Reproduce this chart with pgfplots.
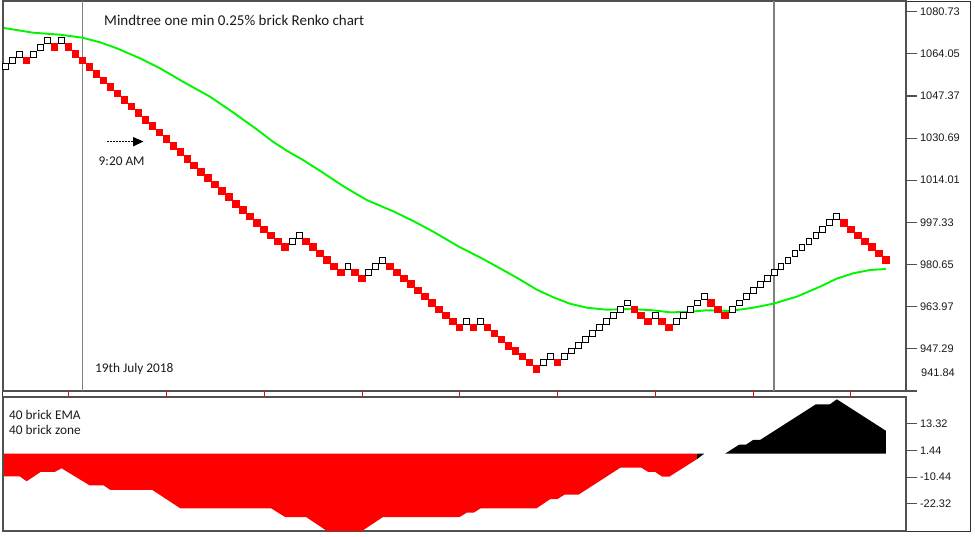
\documentclass[border=0pt]{standalone}
\usepackage{fontspec}
\setmainfont{Liberation Sans}
\newfontfamily\carlito{Carlito}
\usepackage{pgfplots}
\pgfplotsset{compat=1.18}
\definecolor{frameC}{HTML}{303030}
\definecolor{axisC}{HTML}{505050}
\definecolor{vlineC}{HTML}{808080}
\definecolor{txtC}{HTML}{1A1A1A}
\begin{document}
\begin{tikzpicture}[x=1pt,y=1pt]
\path (0,0) rectangle (975,536);
\draw[frameC,line width=1.1pt] (2.5,534.8) rectangle (970.2,4.6);
\begin{axis}[
  at={(3pt,145pt)},anchor=south west,
  scale only axis,width=903pt,height=390pt,
  xmin=-0.387,xmax=128.9,ymin=930.41,ymax=1085.04,
  axis line style={axisC,line width=1.5pt},
  xtick=\empty,
  ytick pos=right,
  tick align=outside,
  ytick={930.41,947.29,963.97,980.65,997.33,1014.01,1030.69,1047.37,1064.05,1080.73},
  yticklabels={,947.29,963.97,980.65,997.33,1014.01,1030.69,1047.37,1064.05,1080.73},
  yticklabel style={font=\fontsize{11}{12}\selectfont,text=txtC,anchor=west,xshift=-0.5pt},
  y tick style={axisC,line width=1.1pt},
  major tick length=11pt,
  clip=true,
]
\addplot[only marks,red,mark=square*,mark size=3.3pt,mark options={draw=red,fill=red,line width=0pt}] coordinates {
(3,1061.37)(7,1066.69)(9,1066.69)(10,1063.91)(11,1061.37)(12,1058.9)(13,1056.10)(14,1053.44)(15,1050.94)(16,1048.29)(17,1045.79)(18,1043.13)(19,1040.52)(20,1037.86)(21,1035.36)(22,1032.83)(23,1030.21)(24,1027.55)(25,1025.05)(26,1022.40)(27,1019.74)(28,1017.24)(29,1014.86)(30,1012.21)(31,1009.71)(32,1007.21)(33,1004.67)(34,1002.17)(35,999.64)(36,997.10)(37,994.52)(38,992.14)(39,989.76)(40,987.39)
(43,989.76)(44,987.39)(45,984.85)(46,982.23)(47,979.85)(48,977.47)(50,977.47)(51,975.09)(55,979.85)(56,977.47)(57,975.09)(58,972.72)(59,970.18)(60,967.80)(61,965.30)(62,962.80)(63,960.42)(64,957.89)(65,955.51)(67,955.51)(69,955.51)(70,953.13)(71,950.75)(72,948.37)(73,946.27)(74,944.01)(75,941.63)(76,939.25)(79,941.63)
(90,962.80)(91,960.42)(92,957.89)(94,957.89)(95,955.51)(101,965.30)(102,962.80)(103,960.42)(120,997.10)(121,994.52)(122,992.14)(123,989.76)(124,987.39)(125,984.85)(126,982.23)};
\addplot[only marks,black,mark=square*,mark size=2.95pt,mark options={draw=black,fill=white,line width=0.9pt}] coordinates {
(0,1058.99)(1,1061.37)(2,1063.91)(4,1063.91)(5,1066.69)(6,1069.30)(8,1069.30)
(41,989.76)(42,992.14)(49,979.85)(52,977.47)(53,979.85)(54,982.23)(66,957.89)(68,957.89)
(77,941.63)(78,944.01)(80,944.01)(81,946.27)(82,948.37)(83,950.75)(84,953.13)(85,955.51)(86,957.89)(87,960.42)(88,962.80)(89,965.30)(93,960.42)
(96,957.89)(97,960.42)(98,962.80)(99,965.30)(100,967.80)(104,962.80)(105,965.30)(106,967.80)(107,970.18)(108,972.72)(109,975.09)(110,977.47)(111,979.85)(112,982.23)(113,984.85)(114,987.39)(115,989.76)(116,992.14)(117,994.52)(118,997.10)(119,999.64)};
\addplot[vlineC,line width=1.8pt] coordinates {(11,930.41)(11,1085.04)};
\addplot[vlineC,line width=1.8pt] coordinates {(110,930.41)(110,1085.04)};
\addplot[color={rgb,255:red,0;green,245;blue,0},line width=1.9pt,line join=round] coordinates {
(-0.24,1074.34)(3.91,1072.47)(7.77,1071.68)(10.97,1070.49)(13.5,1068.67)(15.89,1066.29)(19.23,1062.32)(22.09,1058.36)(25.38,1053.05)(29.25,1047.10)(32.54,1040.91)(35.93,1034.17)(38.27,1029.26)(40.23,1025.69)(42.56,1022.00)(44.98,1017.76)(48.29,1011.69)(51.68,1006.14)(55.49,1001.66)(58.35,997.81)(61.22,993.57)(65.04,987.39)(67.90,983.42)(70.76,979.06)(73.63,974.62)(76.02,970.62)(78.4,967.56)(80.79,965.02)(83.18,963.44)(86.04,962.64)(89.38,962.92)(92.71,962.41)(95.1,961.61)(97.5,961.73)(100.36,962.41)(103.7,962.13)(107.03,963.44)(109.89,965.02)(113.24,967.80)(116.58,971.76)(118.97,974.94)(121.35,977.08)(123.73,978.38)(126.02,978.78)};
\end{axis}
% red time ticks in the strip between the two panels
\begin{axis}[
  at={(3pt,145pt)},anchor=south west,
  scale only axis,width=903pt,height=390pt,
  xmin=-0.387,xmax=128.9,ymin=930.41,ymax=1085.04,
  axis y line=none,axis x line*=bottom,
  axis line style={draw=none},
  xtick={9,23,37,51,65,79,93,107,121},xticklabels={},
  tick align=outside,
  x tick style={red,line width=0.8pt},
  major tick length=5.5pt,
]
\addplot[draw=none] coordinates {(0,1000)};
\end{axis}
\begin{axis}[
  at={(3pt,5pt)},anchor=south west,
  scale only axis,width=903pt,height=134pt,
  xmin=-0.387,xmax=128.9,ymin=-34.52,ymax=25.32,
  axis line style={axisC,line width=1.5pt},
  xtick=\empty,
  ytick pos=right,
  tick align=outside,
  ytick={-22.32,-10.44,1.44,13.32},
  yticklabels={-22.32,-10.44,1.44,13.32},
  yticklabel style={font=\fontsize{11}{12}\selectfont,text=txtC,anchor=west,xshift=-0.5pt},
  y tick style={axisC,line width=1.1pt},
  major tick length=11pt,
]
\addplot[fill=red,draw=none] coordinates {
(-0.24,0)(-0.24,-10.09)(2,-10.09)(3,-12.33)(5,-8.17)(7,-8.17)(8,-6.52)(12,-14.11)(14,-14.11)(15,-16.21)(21,-16.21)(25,-24.38)(38,-24.38)(40,-28.27)(43,-28.27)(46,-34.52)(51,-34.52)(54,-28.27)(65,-28.27)(66,-26.35)(67,-26.35)(68,-24.38)(76,-24.38)(78,-20.23)(79,-20.23)(80,-18.31)(82,-18.31)(88,-6.25)(91,-6.25)(92,-8.17)(93,-8.17)(94,-10.27)(95,-10.27)(99,-2.37)(99,0)} --cycle;
\addplot[fill=black,draw=none] coordinates {(99,0)(99,-2.37)(100,0)} --cycle;
\addplot[fill=black,draw=none] coordinates {(103,0)(105,4.02)(106,4.02)(107,6.12)(108,6.12)(116,22.06)(118,22.06)(119,24.29)(126,10.27)(126,0)} --cycle;
\end{axis}
\fill[black] (133,389.5) -- (143.5,394.5) -- (133,399) -- cycle;
\draw[black,line width=1.6pt,dash pattern=on 1.5pt off 1.5pt] (107,394.3) -- (133,394.3);
\begin{scope}[every node/.style={text=txtC,inner sep=0pt,anchor=west}]
\node[font=\carlito\fontsize{15}{18}\selectfont] at (104,516) {Mindtree one min 0.25\% brick Renko chart};
\node[font=\carlito\fontsize{13.3}{16}\selectfont] at (98.5,374.5) {9:20 AM};
\node[font=\carlito\fontsize{13.3}{16}\selectfont] at (95,167) {19th July 2018};
\node[font=\carlito\fontsize{13.3}{16}\selectfont] at (9,121) {40 brick EMA};
\node[font=\carlito\fontsize{13.3}{16}\selectfont] at (9,106) {40 brick zone};
\node[font=\fontsize{11}{12}\selectfont] at (921,163.5) {941.84};
\end{scope}
\end{tikzpicture}
\end{document}
